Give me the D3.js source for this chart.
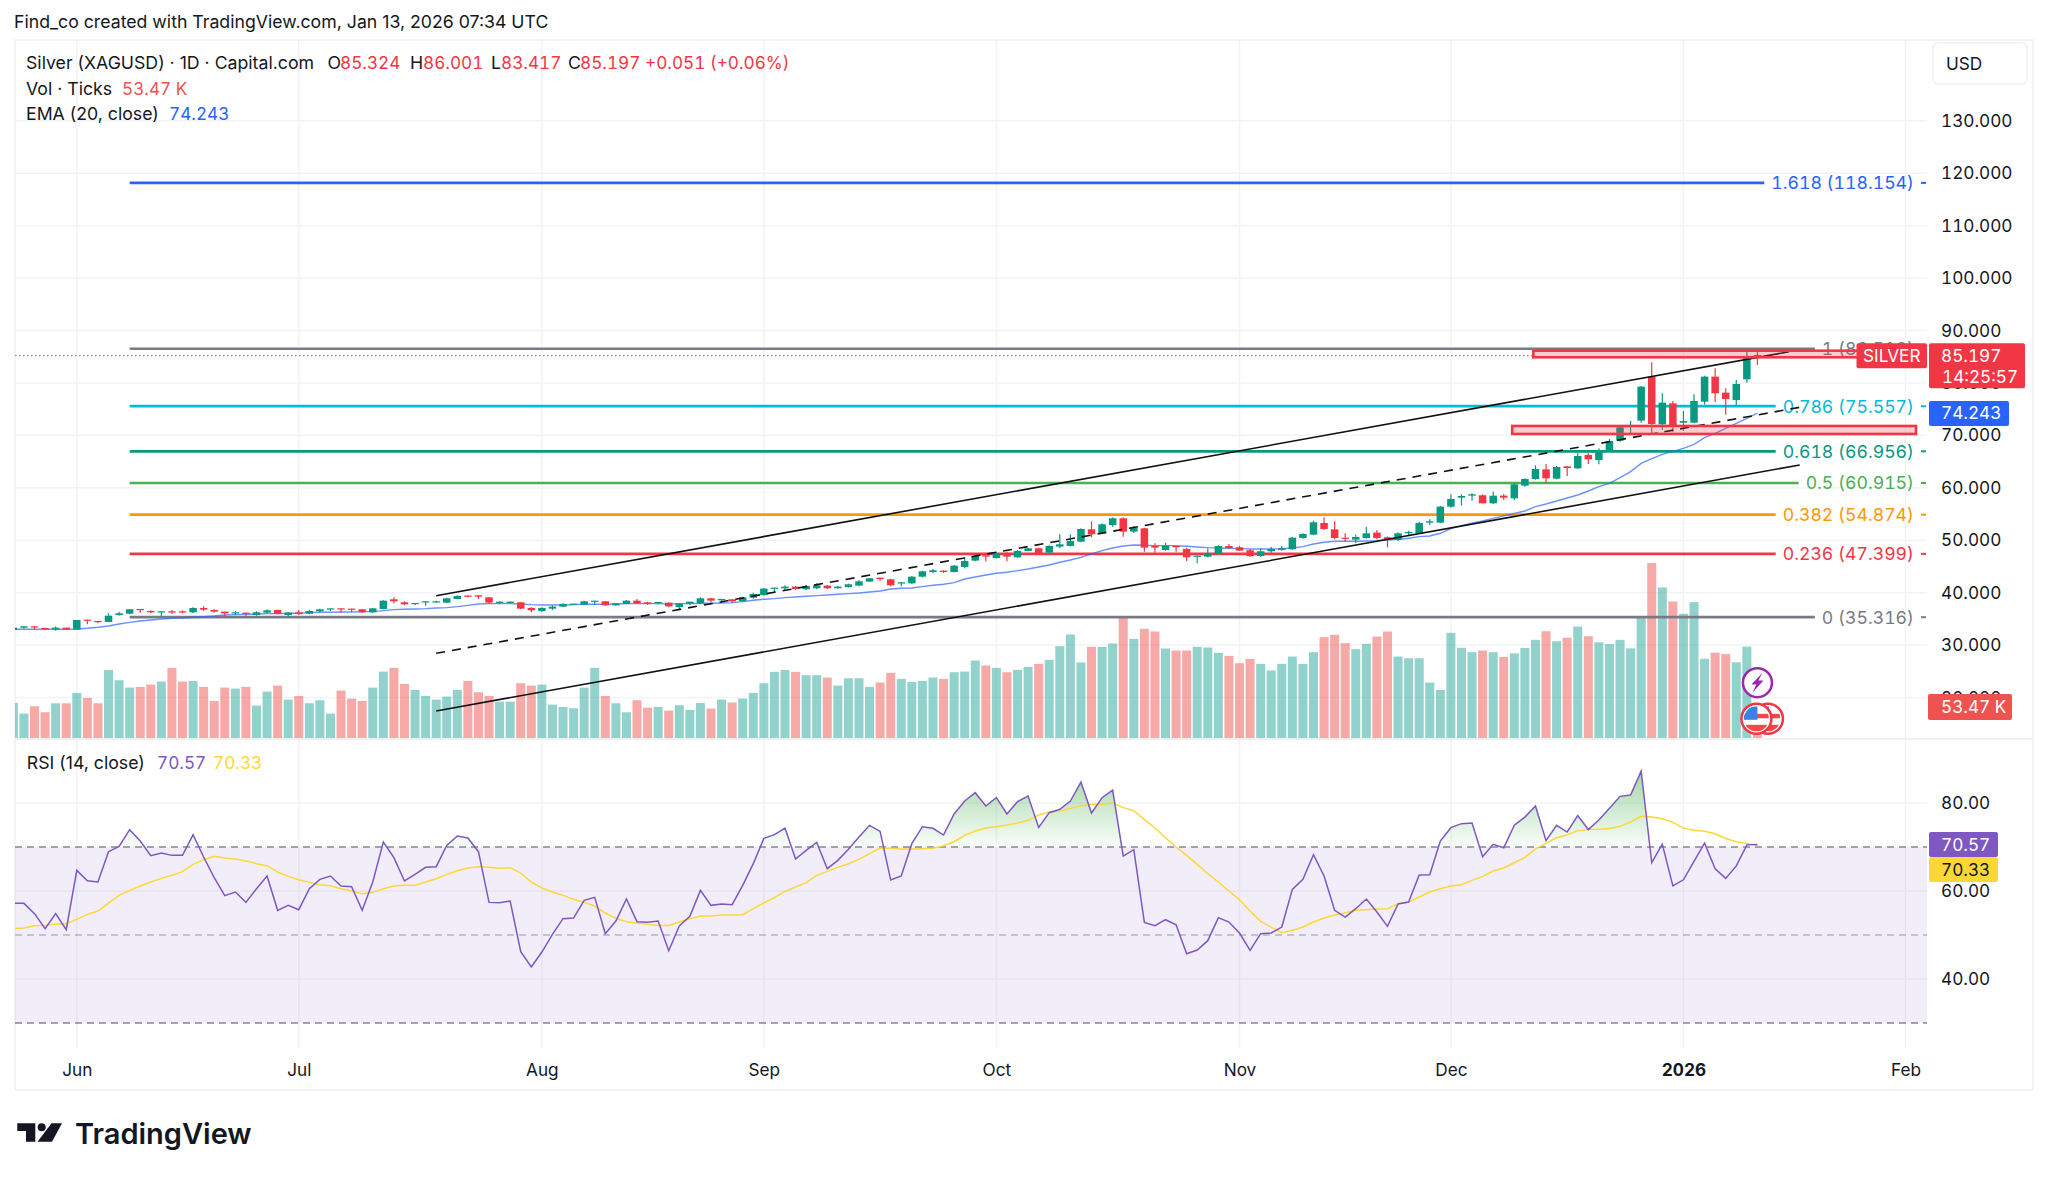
<!DOCTYPE html>
<html>
<head>
<meta charset="utf-8">
<script src="https://cdnjs.cloudflare.com/ajax/libs/d3/7.8.5/d3.min.js"></script>
<style>
html,body{margin:0;padding:0;background:#fff}
svg{display:block}
text{font-family:Inter,"Noto Sans",sans-serif;font-size:17.2px;font-variant-numeric:tabular-nums;font-feature-settings:"tnum";fill:#131722}
text.cap{font-size:17.7px;font-variant-numeric:normal;font-feature-settings:normal}
text.fib{font-size:17.7px}
</style>
</head>
<body>
<svg id="chart" width="2048" height="1179"></svg>
<script>
// Session numbering: 0 is 2 Jun 2025, the arrays begin six sessions earlier.
const firstSession = -6;
const opens = [32.88,33.32,33.58,33.26,33.01,33.32,
32.94,34.85,34.60,34.41,35.74,35.99,36.89,36.50,36.31,36.44,
36.44,36.25,37.08,36.70,36.38,36.06,36.19,35.74,36.19,36.70,
35.74,36.25,35.99,36.44,36.82,37.01,36.95,36.82,36.25,36.89,
38.73,38.16,37.84,38.16,38.16,38.09,38.79,39.43,39.49,39.11,
38.03,38.03,38.16,37.08,36.50,36.95,37.33,37.71,37.71,38.28,
38.35,37.58,37.84,38.47,38.16,38.03,38.09,37.27,37.90,37.97,
38.92,38.54,38.73,38.35,39.05,39.56,40.77,40.83,41.15,40.64,
40.83,41.34,40.83,41.08,41.34,42.10,42.86,42.55,41.78,41.78,
43.05,43.94,44.20,43.94,44.90,46.11,47.12,46.61,47.57,46.74,
47.95,48.46,47.63,48.78,48.90,49.73,52.08,51.32,52.91,54.18,
51.64,52.27,48.90,48.14,48.90,48.33,46.87,46.87,47.38,48.90,
48.65,48.08,46.98,47.89,48.14,48.27,50.43,51.06,53.29,52.08,
50.49,50.11,50.43,51.45,50.56,50.05,51.32,51.32,53.35,53.35,
56.40,58.12,58.50,58.57,57.04,58.50,57.99,60.41,61.68,63.52,
61.74,64.09,63.71,66.26,65.31,67.08,68.99,71.66,72.81,81.20,
72.11,76.11,72.42,72.42,76.43,81.20,78.15,76.75,80.69,85.324];
const highs = [33.32,33.58,33.64,33.32,33.52,33.32,
34.79,34.85,34.60,36.06,36.38,36.89,36.89,36.63,36.44,36.70,
36.63,37.20,37.39,36.82,36.38,36.50,36.19,36.44,36.82,36.76,
36.31,36.70,36.70,36.95,37.01,37.01,36.95,36.89,37.08,38.54,
39.11,38.35,38.03,38.35,38.47,39.05,39.49,39.49,39.49,39.17,
38.35,38.35,38.22,37.20,37.20,37.58,37.97,37.90,38.47,38.47,
38.41,38.03,38.60,38.79,38.28,38.22,38.16,37.97,38.28,39.11,
39.05,38.80,38.73,39.24,40.00,40.89,40.96,41.40,41.27,41.40,
41.78,41.47,41.27,41.72,42.42,42.74,42.86,42.67,41.97,43.18,
44.20,44.52,44.20,45.28,46.87,47.25,47.12,47.82,47.82,48.14,
48.58,48.58,49.03,51.13,51.13,52.27,53.61,53.23,54.31,54.37,
52.72,52.40,49.41,49.54,48.90,48.58,47.06,48.46,49.03,49.28,
48.97,48.27,48.46,48.71,48.90,50.62,51.32,53.73,54.37,53.61,
51.32,51.06,52.53,51.95,50.68,51.51,51.83,53.48,53.99,56.53,
58.76,58.76,58.95,58.76,59.27,58.82,60.85,61.80,64.28,64.54,
64.16,64.09,66.70,66.70,67.53,69.31,71.79,72.74,79.42,83.93,
78.02,76.56,74.65,77.83,81.39,82.79,78.97,80.56,86.16,86.001];
const lows = [32.88,33.13,32.88,32.94,32.75,32.88,
32.88,33.96,34.15,34.34,35.61,35.87,36.19,36.06,35.55,35.93,
36.06,36.12,36.57,36.19,35.42,35.74,35.30,35.61,36.06,35.87,
35.36,35.74,35.87,36.31,36.50,36.19,36.31,36.19,36.19,36.82,
37.97,37.65,37.58,37.52,38.09,38.03,38.73,39.11,38.79,37.84,
37.90,37.97,36.82,36.25,36.38,36.70,37.20,37.71,37.65,37.65,
37.52,37.52,37.78,37.84,37.65,37.78,37.20,36.70,37.65,37.84,
38.10,38.10,37.97,38.29,38.86,39.43,40.00,40.51,40.51,40.51,
40.64,40.70,40.77,40.96,41.21,42.10,42.29,41.15,41.21,41.66,
42.93,43.69,43.75,43.82,44.64,45.98,45.92,46.49,45.98,46.61,
47.89,47.25,47.50,48.52,48.78,49.60,50.56,51.19,52.59,50.68,
51.38,47.82,47.63,48.01,47.82,46.04,45.60,46.74,47.25,48.33,
47.95,46.80,46.87,47.63,48.01,48.20,50.30,50.94,52.02,50.17,
49.73,49.41,50.30,50.17,48.65,49.86,51.00,51.19,52.91,53.23,
56.21,56.60,57.55,57.04,56.91,57.67,57.61,60.22,61.55,60.85,
61.61,62.25,63.59,64.54,64.48,66.89,68.80,70.26,72.42,70.39,
71.03,70.71,70.90,72.30,75.86,76.30,73.95,75.67,80.05,83.417];
const closes = [33.32,33.58,33.39,33.01,33.32,32.94,
34.79,34.66,34.41,35.61,36.06,36.82,36.70,36.25,36.44,36.25,
36.25,37.08,36.76,36.38,36.06,36.25,35.99,36.25,36.63,35.93,
36.19,35.93,36.50,36.82,37.01,36.82,36.76,36.25,37.01,38.47,
38.35,37.78,38.03,38.35,38.35,38.92,39.36,39.24,39.24,38.09,
38.28,38.28,36.95,36.63,37.08,37.33,37.84,37.90,38.35,38.47,
37.58,37.97,38.47,37.97,37.90,38.22,37.39,37.90,38.28,38.92,
38.48,38.80,38.35,39.11,39.75,40.77,40.96,41.15,40.70,41.27,
41.40,40.83,41.15,41.59,42.16,42.74,42.61,41.40,41.97,43.05,
44.07,44.26,43.94,45.15,46.04,46.98,46.87,47.38,46.87,47.95,
48.46,47.31,48.90,49.22,49.86,52.14,51.13,53.04,54.18,51.64,
52.34,48.58,48.58,48.97,48.78,46.74,47.06,47.50,48.90,48.52,
48.01,46.98,47.89,48.33,48.46,50.49,51.19,53.42,52.14,50.43,
50.30,50.62,51.32,50.43,50.11,51.32,51.57,53.29,53.61,56.40,
57.87,58.44,58.76,57.04,58.50,58.12,60.66,61.68,63.58,61.80,
63.97,63.77,66.07,65.43,66.89,68.93,71.53,71.92,79.29,72.17,
76.24,71.66,72.74,76.56,81.20,78.02,76.94,79.80,85.15,85.197];
// Tick volume in thousands.
const volumes = [60.4,42,54.6,44.3,59.8,59.8,
77.6,69,59.8,117.3,99.5,86.8,88,92,97.2,120.8,
97.2,98.3,88,63.8,86.8,85.1,88,55.8,79.9,90.3,
66.1,72.5,59.8,65,42,81.7,67.9,63.8,86.8,114.4,
120.8,93.2,82.8,72.5,66.1,71.3,82.8,98.3,78.8,72.5,
62.7,62.7,94.3,90.3,92,57.5,53.5,51.2,86.8,120.8,
72.5,59.8,44.3,65,52.3,53.5,47.2,56.4,48.3,60.4,
50.6,66.1,61,67.9,77.6,94.3,113.9,117.3,113.9,108.1,
108.1,104.1,90.3,102.9,102.9,88,95.5,112.1,101.8,96.6,
98.3,104.1,101.8,113.3,114.4,133.4,124.8,120.8,113.3,117.3,
122.5,127.7,134.6,158.1,178.3,130,157,157,162.7,208,
170.8,188,183.4,154.1,150.7,150.7,157,155.8,146.6,141.5,
128.8,136.3,127.7,116.2,127.7,140.3,127.7,147.8,173.7,177.7,
163.3,153,162.2,174.8,183.4,140.3,137.4,137.4,95.5,82.8,
181.1,155.3,147.8,150.7,147.8,139.6,145.8,155,169,183.9,
166.7,172.8,191.9,175.3,164.8,161.7,169,154.4,210,301.4,
259.3,235.1,213.9,234,136.5,147,144.5,130.4,157.4,53.47];
const emaValues = [33.01,33.01,33.01,33.01,33.01,33.01,
33.07,33.20,33.39,33.64,34.02,34.34,34.60,34.79,34.98,35.10,
35.17,35.30,35.42,35.55,35.74,35.80,35.87,35.93,35.99,35.99,
36.06,36.06,36.19,36.25,36.25,36.31,36.31,36.38,36.38,36.57,
36.76,36.82,36.89,36.95,37.08,37.14,37.33,37.58,37.84,37.90,
37.90,37.90,37.84,37.71,37.65,37.65,37.65,37.71,37.78,37.78,
37.78,37.84,37.90,37.90,37.90,37.90,37.84,37.90,37.90,37.97,
37.97,38.03,38.10,38.29,38.54,38.73,38.86,39.05,39.18,39.30,
39.43,39.56,39.69,39.81,39.94,40.13,40.32,40.70,40.83,40.89,
41.15,41.40,41.59,41.91,42.61,42.99,43.37,43.69,43.88,44.20,
44.52,44.90,45.28,45.79,46.23,46.74,47.38,48.01,48.52,48.90,
49.09,49.03,48.97,48.97,48.97,48.84,48.71,48.58,48.52,48.46,
48.39,48.33,48.33,48.33,48.39,48.52,48.78,49.28,49.60,49.79,
49.79,49.79,49.86,49.92,50.05,50.17,50.37,50.68,50.81,51.32,
52.21,52.78,53.23,53.67,54.18,54.65,55.13,55.57,56.40,56.91,
57.48,58.05,58.63,59.39,60.21,60.85,61.93,63.08,64.66,65.55,
66.38,66.95,67.53,68.29,69.56,70.39,71.34,72.29,73.25,74.243];
const rsiValues = [57.19,57.19,54.84,51.43,54.84,51.2,
64.69,62.34,62.04,68.94,70.15,73.94,71.36,68.03,68.64,68.10,
68.10,72.81,67.73,63.02,58.93,59.76,57.41,60.52,63.4,55.6,
56.73,55.75,60.52,62.65,63.4,61.13,60.98,55.6,62.04,71.14,
67.57,62.27,63.78,65.38,65.53,70.38,72.5,72.05,68.94,57.41,
57.34,57.72,46.19,42.71,46.12,50.14,53.7,53.85,57.87,58.55,
50.29,53.17,58.17,53.02,52.87,53.17,46.42,52.03,54.23,60.14,
56.73,57.04,56.88,61.28,66.21,71.97,72.81,74.32,67.27,69.24,
71.06,65.07,66.97,69.47,72.27,74.93,73.56,62.49,63.4,70.76,
74.62,74.25,72.73,77.51,80.46,82.36,79.33,81.22,77.51,80.31,
81.6,74.47,77.81,78.57,80.46,84.78,77.73,81.22,82.96,67.95,
69.39,52.87,52.11,53.47,52.33,45.74,46.57,48.7,53.93,52.94,
50.44,46.5,50.29,50.44,51.8,60.37,62.65,68.26,63.4,55.6,
54.08,55.97,58.17,55.22,51.96,57.04,57.49,63.63,63.71,71.36,
74.4,75.31,75.46,67.8,70.61,69.84,74.95,76.81,79.33,71.46,
74.95,73.41,77.14,73.97,76.16,78.84,81.52,81.84,87.27,66.43,
70.65,61.16,62.54,66.76,70.89,65.05,62.86,65.7,70.49,70.57];
const rsiMaValues = [51.43,51.58,52.11,52.18,52.41,52.56,
53.55,54.69,55.44,57.26,59.01,60.14,61.13,62.04,62.87,63.56,
64.39,66.06,67.12,67.88,67.5,67.27,66.82,66.21,65.75,64.31,
63.33,62.57,61.96,61.43,61.21,60.52,59.99,59.39,59.69,60.52,
61.13,61.28,61.28,62.04,62.8,63.78,64.62,65.22,65.53,65.38,
65.15,65.3,64.09,62.04,60.67,59.76,59.01,58.1,57.41,56.58,
54.99,53.78,53.02,52.71,52.41,52.18,52.18,52.94,53.7,54.31,
54.31,54.53,54.53,54.61,55.97,57.26,58.48,59.92,60.9,61.89,
63.56,64.47,65.38,66.21,67.19,68.48,69.77,69.7,69.55,69.55,
69.62,69.7,70.3,71.21,72.65,73.64,74.32,74.62,75,75.46,
76.07,77.28,77.96,78.26,78.79,79.4,79.7,79.7,80.01,78.95,
78.26,76.22,74.32,72.12,70,68.1,66.06,63.93,62.04,59.99,
58.02,55.44,53.09,51.8,50.52,51.05,51.8,52.94,53.85,54.53,
55.06,55.6,55.75,55.9,55.97,57.11,57.49,58.63,59.76,60.52,
61.13,61.43,62.42,63.33,64.54,65.22,66.43,67.65,69.59,70.81,
72.11,72.76,73.73,73.97,74.05,74.22,74.7,75.68,76.97,76.81,
76.41,75.6,74.3,73.81,73.57,73.0,71.95,71.22,70.81,70.33];

const priceTicks = [130,120,110,100,90,80,70,60,50,40,30,20];
const rsiTicks = [80,60,40];
const rsiBands = [70,50,30];
const timeTickSessions = [0,21,44,65,87,110,130,152,173];
const timeTickLabels = ["Jun","Jul","Aug","Sep","Oct","Nov","Dec","2026","Feb"];

const fibRatios = ["1.618","1","0.786","0.618","0.5","0.382","0.236","0"];
const fibPrices = [118.154,86.516,75.557,66.956,60.915,54.874,47.399,35.316];
const fibColors = ["#2962FF","#787B86","#00BCD4","#089981","#4CAF50","#FF9800","#F23645","#787B86"];
const fibStart = 5;

// Parallel channel: [start session, start price, end session, end price]
const channelUpper = [34,39.42,162,85.96];
const channelMid = [34,28.43,163,75.35];
const channelLower = [34,17.43,163,64.35];
// Support and resistance zones: [start session, top price, end session, bottom price]
const zoneUpper = [137.8,86.15,171,84.89];
const zoneLower = [135.8,71.79,174,70.27];

const lastPrice = 85.197, lastEma = 74.243, lastVolume = 53.47;

const W = 2048, H = 1179;
const paneL = 15, paneR = 1927, frameR = 2033, paneT = 40, paneSplit = 739, gridB = 1048, frameB = 1090;
const up = "#089981", down = "#F23645";

const sessions = d3.range(firstSession, firstSession + closes.length);
const x = d3.scaleLinear().domain([0, 21]).range([76.8, 298.77]);
const yPrice = d3.scaleLinear().domain([90, 30]).range([330.5, 645.08]);
const yVol = d3.scaleLinear().domain([0, 301.4]).range([738, 563]);
const yRsi = d3.scaleLinear().domain([30, 80]).range([1022.9, 803.05]);

const svg = d3.select("#chart");
const defs = svg.append("defs");
defs.append("clipPath").attr("id","priceClip").append("rect")
  .attr("x",paneL).attr("y",paneT).attr("width",paneR-paneL).attr("height",paneSplit-paneT);
defs.append("clipPath").attr("id","rsiClip").append("rect")
  .attr("x",paneL).attr("y",paneSplit).attr("width",paneR-paneL).attr("height",gridB-paneSplit);
defs.append("clipPath").attr("id","overbought").append("rect")
  .attr("x",paneL).attr("y",paneSplit).attr("width",paneR-paneL).attr("height",yRsi(70)-paneSplit);
const grad = defs.append("linearGradient").attr("id","obFill").attr("gradientUnits","userSpaceOnUse")
  .attr("x1",0).attr("x2",0).attr("y1",yRsi(87)).attr("y2",yRsi(70));
grad.append("stop").attr("offset",0).attr("stop-color","#4CAF50").attr("stop-opacity",0.5);
grad.append("stop").attr("offset",1).attr("stop-color","#4CAF50").attr("stop-opacity",0.03);

svg.append("rect").attr("width",W).attr("height",H).attr("fill","#fff");

// Grid
const grid = svg.append("g").attr("stroke","#f2f3f6").attr("stroke-width",1.5);
grid.selectAll(".v").data(timeTickSessions).join("line").attr("class","v")
  .attr("x1",d=>x(d)).attr("x2",d=>x(d)).attr("y1",paneT).attr("y2",gridB);
grid.selectAll(".h").data(priceTicks).join("line").attr("class","h")
  .attr("x1",paneL).attr("x2",paneR).attr("y1",d=>yPrice(d)).attr("y2",d=>yPrice(d));
grid.selectAll(".r").data(rsiTicks).join("line").attr("class","r")
  .attr("x1",paneL).attr("x2",paneR).attr("y1",d=>yRsi(d)).attr("y2",d=>yRsi(d));

// Frame and pane divider
svg.append("rect").attr("x",paneL).attr("y",paneT).attr("width",frameR-paneL).attr("height",frameB-paneT)
  .attr("fill","none").attr("stroke","#f0f1f3").attr("stroke-width",1.5);
svg.append("line").attr("x1",paneL).attr("x2",frameR).attr("y1",paneSplit).attr("y2",paneSplit)
  .attr("stroke","#eff0f2").attr("stroke-width",2);

// Volume
const pricePane = svg.append("g").attr("clip-path","url(#priceClip)");
pricePane.append("g").selectAll("rect").data(sessions).join("rect")
  .attr("x",s=>x(s)-4.5).attr("width",9)
  .attr("y",(s,i)=>yVol(volumes[i])).attr("height",(s,i)=>yVol(0)-yVol(volumes[i]))
  .attr("fill",(s,i)=>closes[i]>=opens[i]?"rgba(38,166,154,0.5)":"rgba(239,83,80,0.5)");

// Fibonacci retracement levels, each stopping just short of its label
const fibLabelRight = 1914;
const fibG = svg.append("g");
fibRatios.forEach((r,i)=>{
  const y = yPrice(fibPrices[i]);
  const label = fibG.append("text").attr("class","fib").attr("x",fibLabelRight).attr("y",y).attr("dy","0.36em")
    .attr("text-anchor","end").style("fill",fibColors[i]).text(`${r} (${fibPrices[i].toFixed(3)})`);
  const w = label.node().getComputedTextLength();
  fibG.insert("line","text").attr("x1",x(fibStart)).attr("x2",fibLabelRight-w-7).attr("y1",y).attr("y2",y)
    .attr("stroke",fibColors[i]).attr("stroke-width",2.7);
  fibG.append("line").attr("x1",1921).attr("x2",1926).attr("y1",y).attr("y2",y)
    .attr("stroke",fibColors[i]).attr("stroke-width",2);
});

// 20-period EMA
const emaLine = d3.line().x((d,i)=>x(sessions[i])).y(d=>yPrice(d));
const overlays = svg.append("g").attr("clip-path","url(#priceClip)");
overlays.append("path").attr("d",emaLine(emaValues)).attr("fill","none")
  .attr("stroke","#2962FF").attr("stroke-opacity",0.7).attr("stroke-width",1.4);

// Candles
const candles = overlays.append("g").selectAll("g").data(sessions).join("g")
  .attr("fill",(s,i)=>closes[i]>=opens[i]?up:down)
  .attr("stroke",(s,i)=>closes[i]>=opens[i]?up:down);
candles.append("line").attr("x1",s=>x(s)).attr("x2",s=>x(s))
  .attr("y1",(s,i)=>yPrice(highs[i])).attr("y2",(s,i)=>yPrice(lows[i])).attr("stroke-width",1.2);
candles.append("rect").attr("x",s=>x(s)-3.75).attr("width",7.5).attr("stroke","none")
  .attr("y",(s,i)=>yPrice(Math.max(opens[i],closes[i])))
  .attr("height",(s,i)=>Math.max(1.2,Math.abs(yPrice(opens[i])-yPrice(closes[i]))));

// Channel
[[channelUpper,null],[channelMid,"9,7"],[channelLower,null]].forEach(([c,dash])=>{
  overlays.append("line").attr("x1",x(c[0])).attr("y1",yPrice(c[1])).attr("x2",x(c[2])).attr("y2",yPrice(c[3]))
    .attr("stroke","#111").attr("stroke-width",1.6).attr("stroke-dasharray",dash);
});

// Zones
[zoneUpper,zoneLower].forEach(z=>{
  svg.append("rect").attr("x",x(z[0])).attr("width",x(z[2])-x(z[0]))
    .attr("y",yPrice(z[1])).attr("height",yPrice(z[3])-yPrice(z[1]))
    .attr("fill","rgba(242,54,69,0.25)").attr("stroke",down).attr("stroke-width",2.6);
});

// Last price marker
svg.append("line").attr("x1",paneL).attr("x2",x(zoneUpper[0])).attr("y1",yPrice(lastPrice)).attr("y2",yPrice(lastPrice))
  .attr("stroke",down).attr("stroke-width",1).attr("stroke-dasharray","1.5,2.5");

// RSI pane
const rsiPane = svg.append("g");
rsiPane.append("rect").attr("x",paneL).attr("width",paneR-paneL)
  .attr("y",yRsi(70)).attr("height",yRsi(30)-yRsi(70)).attr("fill","rgba(126,87,194,0.1)");
rsiPane.selectAll(".band").data(rsiBands).join("line").attr("class","band")
  .attr("x1",paneL).attr("x2",paneR).attr("y1",d=>yRsi(d)).attr("y2",d=>yRsi(d))
  .attr("stroke","#787B86").attr("stroke-opacity",d=>d===50?0.5:0.9).attr("stroke-width",1.5).attr("stroke-dasharray","7,5");
const obArea = d3.area().x((d,i)=>x(sessions[i])).y0(yRsi(70)).y1(d=>yRsi(d));
rsiPane.append("path").attr("d",obArea(rsiValues)).attr("fill","url(#obFill)").attr("clip-path","url(#overbought)");
const rsiLine = d3.line().x((d,i)=>x(sessions[i])).y(d=>yRsi(d));
const rsiG = rsiPane.append("g").attr("clip-path","url(#rsiClip)");
rsiG.append("path").attr("d",rsiLine(rsiMaValues)).attr("fill","none").attr("stroke","#FDD835").attr("stroke-width",1.5);
rsiG.append("path").attr("d",rsiLine(rsiValues)).attr("fill","none").attr("stroke","#7E57C2").attr("stroke-width",1.5);

// Axes
const axisX = 1941;
const pAxis = svg.append("g").attr("transform",`translate(${axisX-9},0)`)
  .call(d3.axisRight(yPrice).tickValues(priceTicks).tickFormat(d3.format(".3f")).tickSize(0).tickPadding(9));
const rAxis = svg.append("g").attr("transform",`translate(${axisX-9},0)`)
  .call(d3.axisRight(yRsi).tickValues(rsiTicks).tickFormat(d3.format(".2f")).tickSize(0).tickPadding(9));
const tAxis = svg.append("g").attr("transform",`translate(0,${gridB+7.6})`)
  .call(d3.axisBottom(x).tickValues(timeTickSessions).tickFormat((d,i)=>timeTickLabels[i]).tickSize(0).tickPadding(8));
[pAxis,rAxis,tAxis].forEach(a=>{
  a.attr("font-family",null).attr("font-size",null);
  a.select(".domain").remove();
});
tAxis.selectAll("text").filter(d=>d===152).style("font-weight",700);

// Axis tags
function tag(x0,y0,w,h,fill,lines,ink){
  svg.append("rect").attr("x",x0).attr("y",y0).attr("width",w).attr("height",h).attr("rx",2).attr("fill",fill);
  lines.forEach(l=>svg.append("text").attr("x",l[0]).attr("y",l[1]).attr("dy","0.36em").style("fill",ink||"#fff").text(l[2]));
}
const lastY = yPrice(lastPrice);
tag(1856.5,lastY-12.5,70.5,25,down,[[1863,lastY,"SILVER"]]);
tag(1929,lastY-12.5,96,45,down,[[axisX,lastY,lastPrice.toFixed(3)],[1942,lastY+21,"14:25:57"]]);
const emaY = yPrice(lastEma);
tag(1929,emaY-12,80,25,"#2962FF",[[axisX,emaY,lastEma.toFixed(3)]]);
const volY = yVol(lastVolume);
tag(1928,volY-13,84,26,"#EF5350",[[axisX,volY,"53.47 K"]]);
tag(1929,832,69,25,"#7E57C2",[[axisX,844.5,"70.57"]]);
tag(1929,857,69,25,"#FDD835",[[axisX,869.5,"70.33"]],"#131722");

// Event markers on the newest session
const evX = x(159);
const bolt = svg.append("g");
bolt.append("circle").attr("cx",evX).attr("cy",682.7).attr("r",14.5).attr("fill","#fff").attr("stroke","#9C27B0").attr("stroke-width",2.5);
bolt.append("path").attr("fill","#9C27B0")
  .attr("d",`M${evX+5},${672.7} L${evX-6},${684.5} L${evX-1},${684.5} L${evX-5},${692.7} L${evX+6},${680.5} L${evX+1},${680.5} Z`);
function flag(cx,id){
  const cy = 718.8, r = 12.5;
  defs.append("clipPath").attr("id",id).append("circle").attr("cx",cx).attr("cy",cy).attr("r",r);
  const g = svg.append("g");
  g.append("circle").attr("cx",cx).attr("cy",cy).attr("r",15).attr("fill","#fff").attr("stroke","#F23645").attr("stroke-width",2.5);
  const f = g.append("g").attr("clip-path",`url(#${id})`);
  f.append("rect").attr("x",cx-r).attr("y",cy-r).attr("width",2*r).attr("height",2*r).attr("fill","#fff");
  [cy-5,cy+6].forEach((sy,k)=>f.append("rect").attr("x",cx-r).attr("y",sy).attr("width",2*r).attr("height",k?7:4.5).attr("fill","#F4474A"));
  f.append("rect").attr("x",cx-r).attr("y",cy-r).attr("width",r+1).attr("height",r+1).attr("fill","#3B82E6");
}
flag(evX+10.5,"flagBack");
flag(evX-1,"flagFront");

// Captions
svg.append("text").attr("class","cap").attr("x",14).attr("y",22).attr("dy","0.36em").text("Find_co created with TradingView.com, Jan 13, 2026 07:34 UTC");
function legend(y,parts){
  parts.forEach(p=>svg.append("text").attr("class",p[2]?null:"cap").attr("x",p[0]).attr("y",y).attr("dy","0.36em").style("fill",p[2]||"#131722").text(p[1]));
}
legend(63,[[26,"Silver (XAGUSD) · 1D · Capital.com"],[327.5,"O"],[340,"85.324",down],[410,"H"],[423,"86.001",down],[491,"L"],[501,"83.417",down],[568,"C"],[580,"85.197",down],[645,"+0.051 (+0.06%)",down]]);
legend(88.5,[[26,"Vol · Ticks"],[122,"53.47 K","#EF5350"]]);
legend(113.6,[[26,"EMA (20, close)"],[169,"74.243","#2962FF"]]);
legend(763,[[26.8,"RSI (14, close)"],[157,"70.57","#7E57C2"],[213,"70.33","#FDD835"]]);

// Currency button
svg.append("rect").attr("x",1933).attr("y",43).attr("width",94).attr("height",41).attr("rx",5)
  .attr("fill","#fff").attr("stroke","#f0f1f3").attr("stroke-width",1.5);
svg.append("text").attr("x",1946).attr("y",64).attr("dy","0.36em").text("USD");

// Brand mark
const mark = svg.append("g").attr("fill","#131722");
mark.append("path").attr("d","M17.3,1123.3 H35.3 V1141.7 H26 V1131 H17.3 Z");
mark.append("circle").attr("cx",41.7).attr("cy",1127.3).attr("r",4);
mark.append("path").attr("d","M51.5,1123.3 H62 L52,1141.7 H37.5 Z");
svg.append("text").attr("x",75).attr("y",1133.5).attr("dy","0.36em").style("font-size","29px").style("font-weight",600).style("font-variant-numeric","normal").text("TradingView");
</script>
</body>
</html>
